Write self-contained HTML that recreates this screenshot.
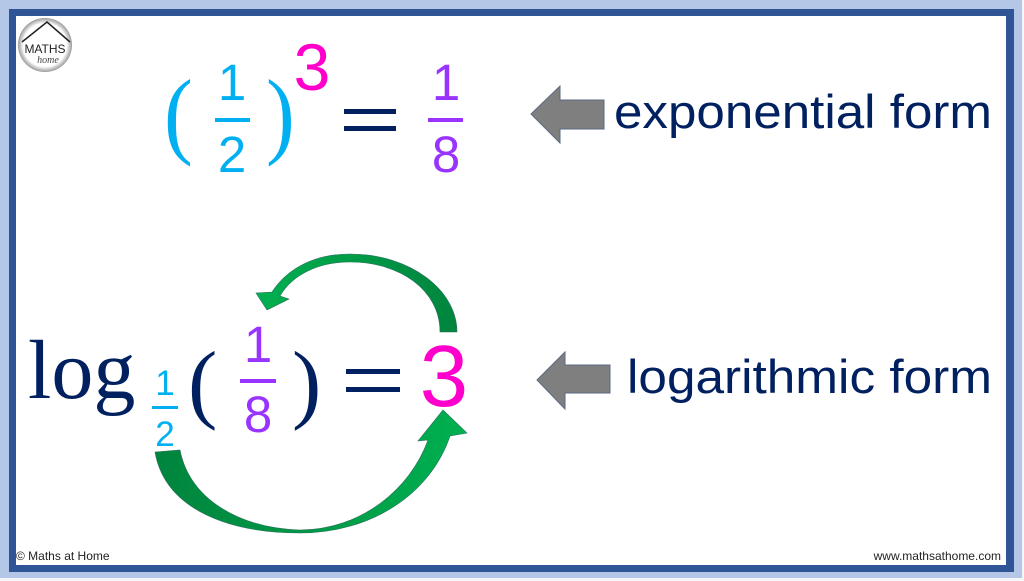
<!DOCTYPE html>
<html><head><style>
html,body{margin:0;padding:0;background:#fff;}
svg{display:block;}
</style></head><body>
<svg width="1024" height="581" viewBox="0 0 1024 581" xmlns="http://www.w3.org/2000/svg">
<defs>
<radialGradient id="lg" cx="50%" cy="50%" r="50%">
<stop offset="80%" stop-color="#fff"/><stop offset="100%" stop-color="#9a9a9a"/>
</radialGradient>
<linearGradient id="g1" x1="0" y1="0" x2="1" y2="0">
<stop offset="0" stop-color="#00b050"/><stop offset="1" stop-color="#00843d"/>
</linearGradient>
<linearGradient id="g2" x1="0" y1="0" x2="1" y2="0">
<stop offset="0" stop-color="#00843d"/><stop offset="1" stop-color="#00b050"/>
</linearGradient>
</defs>
<rect x="0" y="0" width="1024" height="581" fill="#f4f6fa"/>
<rect x="0" y="0" width="1022" height="578" fill="#b4c7e7"/>
<rect x="9" y="9" width="1005" height="563" fill="#2f5597"/>
<rect x="16" y="16" width="990" height="549" fill="#fff"/>

<!-- logo -->
<circle cx="45" cy="45" r="27" fill="url(#lg)"/>
<path d="M22,42 L47,22 L70,42" fill="none" stroke="#222" stroke-width="1.5"/>
<text x="45" y="53" font-family="Liberation Sans, sans-serif" font-size="12" text-anchor="middle" fill="#222">MATHS</text>
<text x="48" y="63" font-family="Liberation Serif, serif" font-style="italic" font-size="10" text-anchor="middle" fill="#444">home</text>

<g font-family="Liberation Sans, sans-serif">
<!-- top equation -->
<text x="164" y="146" font-size="96" fill="#00b0f0" font-family="Liberation Serif, serif" transform="translate(164,146) scale(0.9,1) translate(-164,-146)">(</text>
<text x="232" y="100" font-size="51" fill="#00b0f0" text-anchor="middle">1</text>
<rect x="215" y="118" width="35" height="4" fill="#00b0f0"/>
<text x="232" y="172" font-size="51" fill="#00b0f0" text-anchor="middle">2</text>
<text x="266" y="146" font-size="96" fill="#00b0f0" font-family="Liberation Serif, serif" transform="translate(266,146) scale(0.9,1) translate(-266,-146)">)</text>
<text x="312" y="90" font-size="66" fill="#ff00cc" text-anchor="middle">3</text>
<rect x="344" y="109" width="52" height="5" fill="#002060"/>
<rect x="344" y="126" width="52" height="5" fill="#002060"/>
<text x="446" y="100" font-size="51" fill="#9933ff" text-anchor="middle">1</text>
<rect x="428" y="118" width="35" height="4" fill="#9933ff"/>
<text x="446" y="172" font-size="51" fill="#9933ff" text-anchor="middle">8</text>

<!-- bottom equation -->
<text x="28" y="398" font-size="84" fill="#002060" font-family="Liberation Serif, serif">log</text>
<text x="165" y="395" font-size="35" fill="#00b0f0" text-anchor="middle">1</text>
<rect x="152" y="406" width="26" height="3" fill="#00b0f0"/>
<text x="165" y="446" font-size="35" fill="#00b0f0" text-anchor="middle">2</text>
<text x="188" y="412" font-size="88" fill="#002060" font-family="Liberation Serif, serif">(</text>
<text x="258" y="362" font-size="51" fill="#9933ff" text-anchor="middle">1</text>
<rect x="240" y="379" width="36" height="4" fill="#9933ff"/>
<text x="258" y="432" font-size="51" fill="#9933ff" text-anchor="middle">8</text>
<text x="292" y="412" font-size="88" fill="#002060" font-family="Liberation Serif, serif">)</text>
<rect x="346" y="369" width="54" height="5" fill="#002060"/>
<rect x="346" y="387" width="54" height="5" fill="#002060"/>
<text x="444" y="406" font-size="87" fill="#ff00cc" text-anchor="middle">3</text>

<!-- labels -->
<text x="614" y="128" font-size="47" fill="#002060" textLength="378" lengthAdjust="spacingAndGlyphs">exponential form</text>
<text x="627" y="393" font-size="47" fill="#002060" textLength="365" lengthAdjust="spacingAndGlyphs">logarithmic form</text>

<text x="16" y="560" font-size="12" fill="#222">© Maths at Home</text>
<text x="1001" y="560" font-size="12" fill="#222" text-anchor="end">www.mathsathome.com</text>
</g>

<!-- grey arrows -->
<polygon points="531,114 560,86 560,100 604,100 604,129 560,129 560,143" fill="#7f7f7f" stroke="#5a6a85" stroke-width="1"/>
<polygon points="537,380 565,352 565,365 610,365 610,393 565,393 565,409" fill="#7f7f7f" stroke="#5a6a85" stroke-width="1"/>

<!-- green arrows -->
<path d="M457,332 C457,290 410,254 350,254 C310,254 285,272 272,292 L256,293 L267,310 L289,299 L280,296 C292,275 318,262 350,262 C400,262 440,290 440,332 Z" fill="url(#g1)" stroke="#2f6f5f" stroke-width="0.6"/>
<path d="M155,452 L180,450 C190,500 240,528 300,530 C360,530 410,490 428,440 L418,441 L443,410 L467,433 L450,436 C430,495 370,533 300,533 C230,533 165,510 155,452 Z" fill="url(#g2)" stroke="#2f6f5f" stroke-width="0.6"/>
</svg>
</body></html>
